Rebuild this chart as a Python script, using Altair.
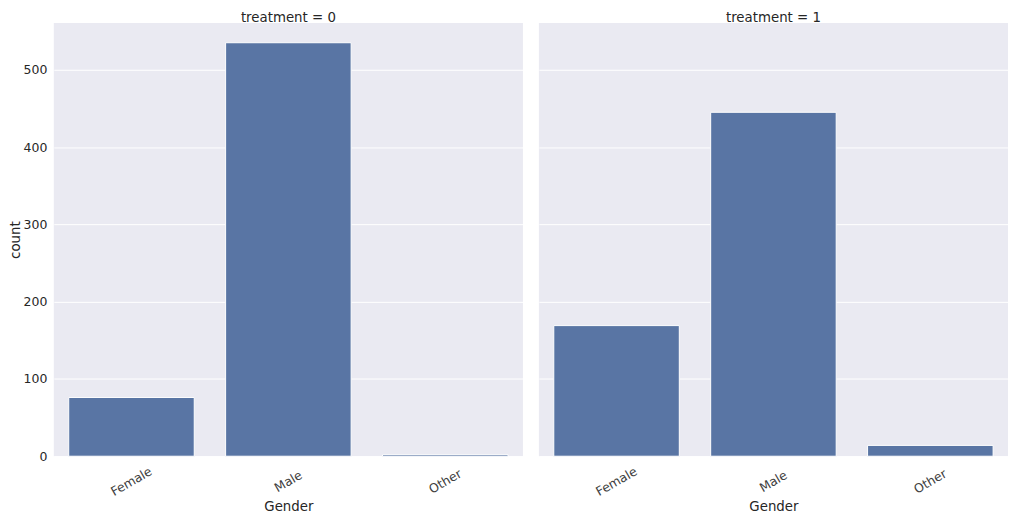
import altair as alt
import pandas as pd

genders = ["Female", "Male", "Other"]
treat0 = [76, 535, 2]
treat1 = [169, 445, 14]
ticks = [0, 100, 200, 300, 400, 500]

df = pd.DataFrame({
    "Gender": genders * 2,
    "count": treat0 + treat1,
    "treatment": [0] * 3 + [1] * 3,
})

def panel(t, show_y):
    return (
        alt.Chart(df[df.treatment == t], title=alt.Title(f"treatment = {t}", fontSize=13.4, fontWeight="normal", color="#262626", font="DejaVu Sans", offset=-1))
        .mark_bar(color="#5975a4", stroke="white", strokeWidth=1)
        .encode(
            x=alt.X("Gender:N", sort=genders, title="Gender",
                    scale=alt.Scale(paddingInner=0.2, paddingOuter=0.095),
                    axis=alt.Axis(labelAngle=-30, labelAlign="center", labelBaseline="middle", domain=False, ticks=False, grid=False,
                                  labelFontSize=12.5, titleFontSize=13.4, labelColor="#404040", titleColor="#262626",
                                  labelFont="DejaVu Sans", titleFont="DejaVu Sans", titleFontWeight="normal", labelPadding=25, titlePadding=2)),
            y=alt.Y("count:Q", title="count" if show_y else None,
                    scale=alt.Scale(domain=[0, 560.6], nice=False),
                    axis=alt.Axis(values=ticks, domain=False, ticks=False, grid=True, gridColor="white", gridWidth=1,
                                  labels=show_y, labelFontSize=12.5, titleFontSize=13.4, labelColor="#262626", titleColor="#262626",
                                  labelFont="DejaVu Sans", titleFont="DejaVu Sans", titleFontWeight="normal", labelPadding=7, titlePadding=1)),
        )
        .properties(width=471, height=435)
    )

chart = (
    alt.hconcat(panel(0, True), panel(1, False), spacing=16)
    .properties(background="white", padding={"left": 0, "top": 1, "right": 0, "bottom": 0})
    .configure_view(fill="#eaeaf2", stroke=None)
)
chart.save("out.html", embed_options={"renderer": "svg", "actions": False})
